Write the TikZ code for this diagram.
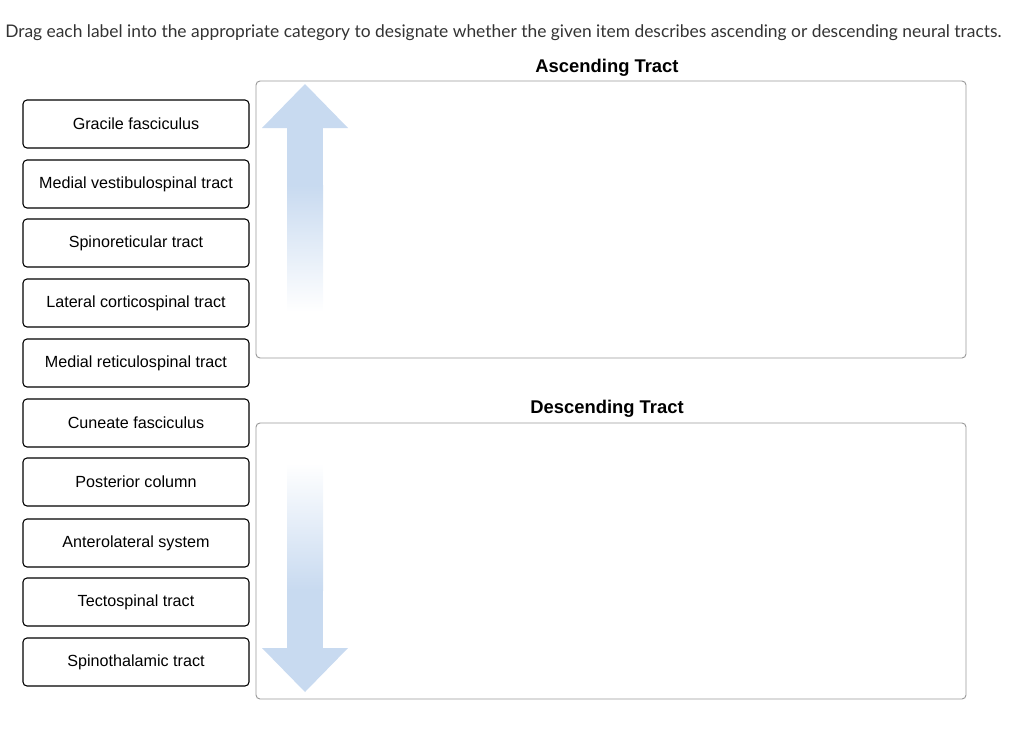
\documentclass[tikz,border=0pt]{standalone}
\usepackage{fontspec}
\setmainfont{Liberation Sans}
\newfontfamily\lato{Lato}
\definecolor{arrowblue}{RGB}{200,218,240}
\definecolor{txtgray}{RGB}{51,51,51}
\begin{document}
\begin{tikzpicture}[x=0.75pt,y=-0.75pt,
  lbl/.style={draw=black,line width=0.8pt,rounded corners=3pt,minimum width=226*0.75pt,minimum height=48*0.75pt,font=\fontsize{12.1}{14}\selectfont,inner sep=0pt},
  zone/.style={draw=gray!80,line width=0.7pt,rounded corners=3pt},
  ttl/.style={font=\fontsize{13.8}{16}\selectfont\bfseries}]
\useasboundingbox (0,0) rectangle (1024,728);
\node[anchor=west,text=txtgray,font=\lato\fontsize{13.05}{15}\selectfont,inner sep=0pt] (instr) at (5,33) {Drag each label into the appropriate category to designate whether the given item describes ascending or descending neural tracts.};
\foreach \n/\y/\t in {a/124/Gracile fasciculus,b/184/Medial vestibulospinal tract,c/243/Spinoreticular tract,d/303/Lateral corticospinal tract,e/363/Medial reticulospinal tract,f/423/Cuneate fasciculus,g/482/Posterior column,h/543/Anterolateral system,i/602/Tectospinal tract,j/662/Spinothalamic tract}
  \node[lbl] (\n) at (136,\y) {\t};
\draw[zone] (256,81) rectangle (966,358);
\node[ttl] (at) at (607,68) {Ascending Tract};
\draw[zone] (256,423) rectangle (966,699);
\node[ttl] (dt) at (607,409) {Descending Tract};
% up arrow
\fill[arrowblue] (305,84) -- (348,128) -- (262,128) -- cycle;
\fill[arrowblue] (287,128) rectangle (323,185);
\shade[top color=arrowblue,bottom color=white] (287,185) rectangle (323,312);
% down arrow
\fill[arrowblue] (305,692) -- (348,648) -- (262,648) -- cycle;
\fill[arrowblue] (287,590) rectangle (323,648);
\shade[top color=white,bottom color=arrowblue] (287,463) rectangle (323,590);
\end{tikzpicture}
\end{document}
